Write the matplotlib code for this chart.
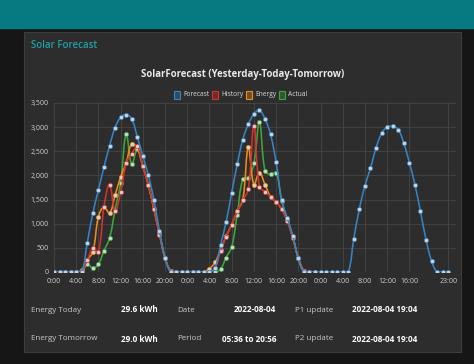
import numpy as np
import matplotlib
matplotlib.use("Agg")
import matplotlib.pyplot as plt
from matplotlib.path import Path
from matplotlib.patches import PathPatch, Rectangle

plt.rcParams['font.family'] = ['Open Sans', 'DejaVu Sans']

# 72 hourly values: yesterday, today, tomorrow
forecast = [0, 0, 0, 0, 0, 0, 610, 1220, 1700, 2170, 2610, 2990, 3200, 3260, 3170, 2800, 2400, 2000, 1490, 840, 300, 0, 0, 0,
            0, 0, 0, 0, 0, 90, 560, 1035, 1640, 2230, 2740, 3060, 3270, 3350, 3170, 2850, 2270, 1490, 1120, 750, 280, 0, 0, 0,
            0, 0, 0, 0, 0, 0, 690, 1310, 1785, 2150, 2570, 2870, 3005, 3020, 2950, 2670, 2265, 1810, 1255, 670, 230, 0, 0, 0]
history = [0, 0, 0, 0, 0, 30, 250, 490, 420, 1350, 1810, 1260, 1650, 2250, 2450, 2600, 2200, 1800, 1310, 770, 280, 20, 0, 0,
           0, 0, 0, 0, 0, 77, 440, 735, 975, 1255, 1490, 1715, 3030, 1760, 1665, 1560, 1450, 1300, 1050, 700, 280, 20, 0, 0]
energy = [0, 0, 0, 0, 0, 40, 250, 420, 1140, 1350, 1220, 1590, 1970, 2260, 2660, 2560, 2190, 1800, 1300, 790, 290, 30, 0, 0,
          0, 0, 0, 0, 70, 200, 450, 740, 980, 1260, 1500, 2580, 1810, 2060, 1810, 1560, 1450, 1300, 1080, 720, 300, 30, 0, 0]
actual = [0, 0, 0, 0, 0, 0, 160, 80, 160, 440, 700, 1290, 1850, 2850, 2230, 2540, 2200, 1800, 1300, 780, 290, 20, 0, 0,
          0, 0, 0, 0, 0, 0, 60, 300, 520, 1190, 1920, 1950, 2250, 3100, 2100, 2020, 2060, 1470, 1100, 730, 280, 20, 0, 0]

hour_labels = ["%d:00" % (h % 24) for h in range(72)]
tick_idx = list(range(0, 68, 4)) + [71]

series = [("Forecast", forecast, "#3584c4"), ("History", history, "#d8302c"),
          ("Energy", energy, "#f08c1c"), ("Actual", actual, "#3aa83a")]

info_rows = [["Energy Today", "29.6 kWh", "Date", "2022-08-04", "P1 update", "2022-08-04 19:04"],
             ["Energy Tomorrow", "29.0 kWh", "Period", "05:36 to 20:56", "P2 update", "2022-08-04 19:04"]]

W, H = 474, 364
fig = plt.figure(figsize=(W / 100, H / 100), dpi=100)
fig.set_facecolor('#161616')


def fx(px):
    return px / W


def fy(py):
    return 1 - py / H


# page chrome
fig.patches.append(Rectangle((0, fy(28)), 1, 28 / H, transform=fig.transFigure, color='#067a80', zorder=-5))
fig.patches.append(Rectangle((fx(24), fy(352)), fx(461) - fx(24), (352 - 32) / H, transform=fig.transFigure,
                             facecolor='#2d2d2d', edgecolor='#3d3d3d', lw=0.8, zorder=-5))
fig.text(fx(31), fy(45), "Solar Forecast", color='#1fa0a6', fontsize=7.0, fontweight='semibold', va='center')
fig.text(fx(242.5), fy(75), "SolarForecast (Yesterday-Today-Tomorrow)", color='#e8e8e8', fontsize=6.9,
         fontweight='bold', ha='center', va='center')

ax = fig.add_axes([fx(54), fy(272), fx(456) - fx(54), (272 - 103) / H])
ax.set_facecolor('none')
ax.set_xlim(0, 72.4)
ax.set_ylim(0, 3500)

sx, sy = 5.55, 24 / 500.0


def spline_path(xs, ys, t=0.4):
    pts = np.column_stack([xs, ys]).astype(float)
    n = len(pts)
    cps = []
    for i in range(n):
        p = pts[i]
        a = pts[i - 1] if i > 0 else p
        b = pts[i + 1] if i < n - 1 else p
        d01 = np.hypot((p[0] - a[0]) * sx, (p[1] - a[1]) * sy)
        d12 = np.hypot((b[0] - p[0]) * sx, (b[1] - p[1]) * sy)
        s01 = d01 / (d01 + d12) if d01 + d12 > 0 else 0
        s12 = d12 / (d01 + d12) if d01 + d12 > 0 else 0
        c1 = p - t * s01 * (b - a)
        c2 = p + t * s12 * (b - a)
        c1[1] = min(max(c1[1], 0), 3500)
        c2[1] = min(max(c2[1], 0), 3500)
        cps.append((c1, c2))
    verts = [pts[0]]
    codes = [Path.MOVETO]
    for i in range(n - 1):
        verts += [cps[i][1], cps[i + 1][0], pts[i + 1]]
        codes += [Path.CURVE4] * 3
    return Path(verts, codes)


for k, (name, vals, col) in enumerate(series):
    xs = np.arange(len(vals))
    z = 10 - k
    ax.add_patch(PathPatch(spline_path(xs, vals), facecolor='none', edgecolor=col, lw=1.15, zorder=z))
    ax.plot(xs, vals, ls='none', marker='o', ms=3.0, mfc='#cfd3d8', mec=col, mew=0.5, zorder=z + 0.5)

ax.set_yticks(range(0, 3501, 500))
ax.set_yticklabels(["{:,}".format(v) for v in range(0, 3501, 500)])
ax.set_xticks(tick_idx)
ax.set_xticklabels([hour_labels[i] for i in tick_idx])
ax.tick_params(colors='#d0d0d0', labelsize=5.0, length=0, pad=4)
ax.grid(True, color='#464646', lw=0.6)
for s in ax.spines.values():
    s.set_visible(False)

# legend
leg_x = [174, 212, 246, 279]
for (name, vals, col), lx in zip(series, leg_x):
    fig.patches.append(Rectangle((fx(lx), fy(99)), 6 / W, 8 / H, transform=fig.transFigure,
                                 facecolor=col, alpha=0.35, edgecolor='none'))
    fig.patches.append(Rectangle((fx(lx), fy(99)), 6 / W, 8 / H, transform=fig.transFigure,
                                 facecolor='none', edgecolor=col, lw=0.8))
    fig.text(fx(lx + 9), fy(95), name, color='#d8d8d8', fontsize=4.8, va='center')

# info table
row_y = [310, 339]
for r, row in zip(row_y, info_rows):
    fig.text(fx(31), fy(r), row[0], color='#c8c8c8', fontsize=5.8, va='center')
    fig.text(fx(121), fy(r), row[1], color='#ffffff', fontsize=5.9, fontweight='bold', va='center')
    fig.text(fx(177), fy(r), row[2], color='#c8c8c8', fontsize=5.8, va='center')
    fig.text(fx(276), fy(r), row[3], color='#ffffff', fontsize=5.9, fontweight='bold', va='center', ha='right')
    fig.text(fx(295), fy(r), row[4], color='#c8c8c8', fontsize=5.8, va='center')
    fig.text(fx(352), fy(r), row[5], color='#ffffff', fontsize=5.9, fontweight='bold', va='center')

fig.savefig('out.png', dpi=100, facecolor=fig.get_facecolor())
